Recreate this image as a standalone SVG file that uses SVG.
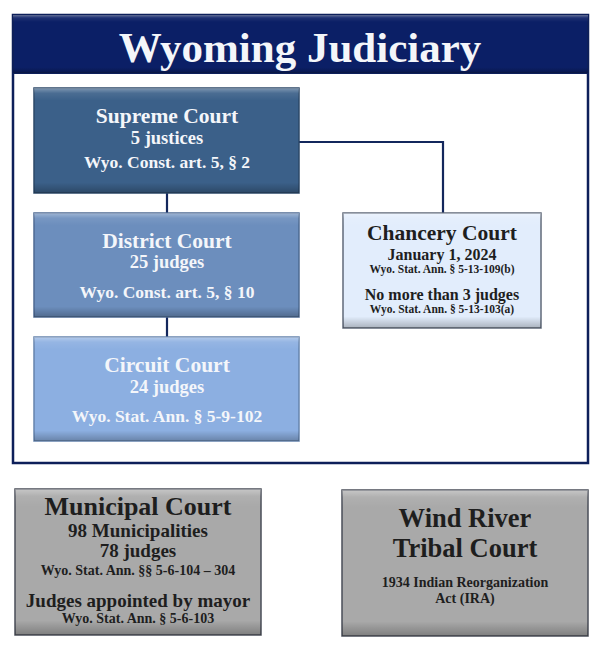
<svg xmlns="http://www.w3.org/2000/svg" width="600" height="652" viewBox="0 0 600 652">
<style>
  text { font-family: "Liberation Serif", "Times New Roman", serif; font-weight: bold; text-anchor: middle; }
  .lt { fill: #f4f6fa; }
  .dk { fill: #1e1e1e; }
  .box { stroke-width: 1.5; }
  .bev { fill: url(#bevel); stroke: none; }
  .conn { fill: none; stroke: #13275c; stroke-width: 2.2; }
</style>
<defs>
  <linearGradient id="bevel" x1="0" y1="0" x2="0" y2="1">
    <stop offset="0" stop-color="#ffffff" stop-opacity="0.35"/>
    <stop offset="0.05" stop-color="#ffffff" stop-opacity="0.08"/>
    <stop offset="0.12" stop-color="#ffffff" stop-opacity="0"/>
    <stop offset="0.9" stop-color="#000000" stop-opacity="0"/>
    <stop offset="1" stop-color="#000000" stop-opacity="0.25"/>
  </linearGradient>
</defs>
<rect width="600" height="652" fill="#ffffff"/>

<g id="frame">
  <rect x="13" y="15" width="575" height="448" fill="#ffffff" stroke="#0d1f5a" stroke-width="2.5"/>
  <rect x="13" y="15" width="575" height="58" fill="#0b1f66" stroke="#0d1f5a" stroke-width="2"/>
  <rect x="13" y="15" width="575" height="58" class="bev"/>
  <text x="300" y="62" class="lt" style="font-size:43px" fill="#ffffff">Wyoming Judiciary</text>
</g>

<g id="connectors">
  <line class="conn" x1="167" y1="192" x2="167" y2="213"/>
  <line class="conn" x1="167" y1="317" x2="167" y2="337"/>
  <polyline class="conn" points="299,142 443,142 443,213"/>
</g>

<g id="supreme">
  <rect x="34" y="88" width="265" height="105" fill="#3b6089" stroke="#2c4868" class="box"/>
  <rect x="34" y="88" width="265" height="105" class="bev"/>
  <text x="167" y="123" class="lt" style="font-size:21.5px">Supreme Court</text>
  <text x="167" y="144" class="lt" style="font-size:18.5px">5 justices</text>
  <text x="167" y="168" class="lt" style="font-size:17.5px">Wyo. Const. art. 5, § 2</text>
</g>

<g id="district">
  <rect x="34" y="213" width="265" height="104" fill="#6c8ebd" stroke="#4d6a92" class="box"/>
  <rect x="34" y="213" width="265" height="104" class="bev"/>
  <text x="167" y="248" class="lt" style="font-size:21.5px">District Court</text>
  <text x="167" y="268" class="lt" style="font-size:18.5px">25 judges</text>
  <text x="167" y="298" class="lt" style="font-size:17.5px">Wyo. Const. art. 5, § 10</text>
</g>

<g id="circuit">
  <rect x="34" y="337" width="265" height="104" fill="#8cafe1" stroke="#6684ad" class="box"/>
  <rect x="34" y="337" width="265" height="104" class="bev"/>
  <text x="167" y="372" class="lt" style="font-size:21.5px">Circuit Court</text>
  <text x="167" y="393" class="lt" style="font-size:18.5px">24 judges</text>
  <text x="167" y="422" class="lt" style="font-size:17.5px">Wyo. Stat. Ann. § 5-9-102</text>
</g>

<g id="chancery">
  <rect x="343" y="213" width="198" height="115" fill="#e2edfc" stroke="#606a7a" class="box"/>
  <rect x="343" y="213" width="198" height="115" class="bev"/>
  <text x="442" y="240" class="dk" style="font-size:21.5px">Chancery Court</text>
  <text x="442" y="260" class="dk" style="font-size:16px">January 1, 2024</text>
  <text x="442" y="273" class="dk" style="font-size:11.5px">Wyo. Stat. Ann. § 5-13-109(b)</text>
  <text x="442" y="300" class="dk" style="font-size:16px">No more than 3 judges</text>
  <text x="442" y="313" class="dk" style="font-size:11.5px">Wyo. Stat. Ann. § 5-13-103(a)</text>
</g>

<g id="municipal">
  <rect x="15" y="489" width="246" height="146" fill="#a9a9a9" stroke="#4a4e58" class="box"/>
  <rect x="15" y="489" width="246" height="146" class="bev"/>
  <text x="138" y="515" class="dk" style="font-size:26px">Municipal Court</text>
  <text x="138" y="537" class="dk" style="font-size:19px">98 Municipalities</text>
  <text x="138" y="557" class="dk" style="font-size:19px">78 judges</text>
  <text x="138" y="575" class="dk" style="font-size:14px">Wyo. Stat. Ann. §§ 5-6-104 – 304</text>
  <text x="138" y="607" class="dk" style="font-size:19px">Judges appointed by mayor</text>
  <text x="138" y="623" class="dk" style="font-size:14px">Wyo. Stat. Ann. § 5-6-103</text>
</g>

<g id="windriver">
  <rect x="342" y="490" width="246" height="146" fill="#a9a9a9" stroke="#4a4e58" class="box"/>
  <rect x="342" y="490" width="246" height="146" class="bev"/>
  <text x="465" y="527" class="dk" style="font-size:26.5px">Wind River</text>
  <text x="465" y="557" class="dk" style="font-size:26.5px">Tribal Court</text>
  <text x="465" y="587" class="dk" style="font-size:14px">1934 Indian Reorganization</text>
  <text x="465" y="603" class="dk" style="font-size:14px">Act (IRA)</text>
</g>
</svg>
